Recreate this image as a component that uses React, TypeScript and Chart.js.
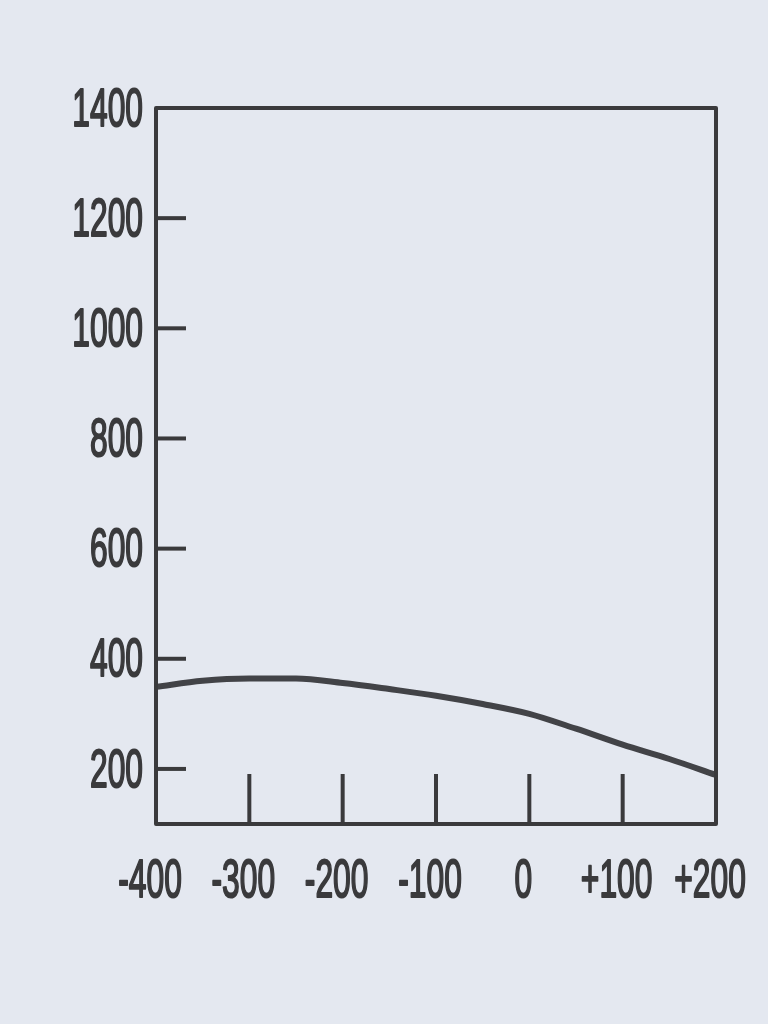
import React, { useEffect, useRef } from "react";
import { Chart, registerables } from "chart.js";

Chart.register(...registerables);

const X_VALUES = [-400, -350, -300, -250, -200, -150, -100, -50, 0, 50, 100, 150, 200];
const Y_VALUES = [349, 360, 364, 364, 356, 345, 333, 318, 300, 273, 244, 218, 189];
const X_TICKS = [-400, -300, -200, -100, 0, 100, 200];
const X_TICK_LABELS = ["-400", "-300", "-200", "-100", "0", "+100", "+200"];
const Y_TICKS = [200, 400, 600, 800, 1000, 1200, 1400];
const Y_TICK_LABELS = ["200", "400", "600", "800", "1000", "1200", "1400"];

const INK = "#3a3a3c";

const framePlugin = {
  id: "framePlugin",
  afterDraw(chart: any) {
    const { ctx, chartArea } = chart;
    const xs = chart.scales.x;
    const ys = chart.scales.y;
    ctx.save();
    ctx.strokeStyle = INK;
    ctx.lineWidth = 4;
    ctx.lineJoin = "round";
    ctx.strokeRect(chartArea.left, chartArea.top, chartArea.right - chartArea.left, chartArea.bottom - chartArea.top);
    // inner y ticks
    Y_TICKS.forEach((v) => {
      if (v >= ys.max) return;
      const y = ys.getPixelForValue(v);
      ctx.beginPath();
      ctx.moveTo(chartArea.left, y);
      ctx.lineTo(chartArea.left + 30, y);
      ctx.stroke();
    });
    // inner x ticks
    X_TICKS.forEach((v) => {
      if (v <= xs.min || v >= xs.max) return;
      const x = xs.getPixelForValue(v);
      ctx.beginPath();
      ctx.moveTo(x, chartArea.bottom);
      ctx.lineTo(x, chartArea.bottom - 50);
      ctx.stroke();
    });
    // labels
    ctx.fillStyle = INK;
    ctx.strokeStyle = INK;
    ctx.lineWidth = 2;
    ctx.lineJoin = "round";
    ctx.font = '53px "Liberation Sans", Arial, sans-serif';
    ctx.textBaseline = "middle";
    const sx = 0.6;
    Y_TICKS.forEach((v, i) => {
      const y = ys.getPixelForValue(v);
      ctx.save();
      ctx.translate(chartArea.left - 13, y + 3);
      ctx.scale(sx, 1);
      ctx.textAlign = "right";
      ctx.fillText(Y_TICK_LABELS[i], 0, 0);
      ctx.strokeText(Y_TICK_LABELS[i], 0, 0);
      ctx.restore();
    });
    X_TICKS.forEach((v, i) => {
      const x = xs.getPixelForValue(v);
      ctx.save();
      ctx.translate(x - 6, chartArea.bottom + 58);
      ctx.scale(sx, 1);
      ctx.textAlign = "center";
      ctx.fillText(X_TICK_LABELS[i], 0, 0);
      ctx.strokeText(X_TICK_LABELS[i], 0, 0);
      ctx.restore();
    });
    ctx.restore();
  },
};

export default function App() {
  const ref = useRef<HTMLCanvasElement | null>(null);
  useEffect(() => {
    document.body.style.margin = "0";
    document.body.style.background = "#e4e8f0";
    const canvas = ref.current;
    if (!canvas) return;
    const chart = new Chart(canvas, {
      type: "line",
      data: {
        datasets: [
          {
            data: X_VALUES.map((x, i) => ({ x, y: Y_VALUES[i] })),
            borderColor: "rgba(52,52,56,0.92)",
            borderWidth: 6,
            pointRadius: 0,
            tension: 0.4,
            cubicInterpolationMode: "monotone",
            fill: false,
          },
        ],
      },
      options: {
        animation: false,
        responsive: false,
        events: [],
        layout: { padding: { left: 0, top: 108, right: 52, bottom: 0 } },
        plugins: { legend: { display: false }, tooltip: { enabled: false }, title: { display: false } },
        scales: {
          x: {
            type: "linear",
            min: -400,
            max: 200,
            grid: { display: false },
            border: { display: false },
            ticks: { display: false },
            afterBuildTicks: (s: any) => {
              s.ticks = X_TICKS.map((v) => ({ value: v }));
            },
            afterFit: (s: any) => {
              s.height = 200;
            },
          },
          y: {
            type: "linear",
            min: 100,
            max: 1400,
            grid: { display: false },
            border: { display: false },
            ticks: { display: false },
            afterBuildTicks: (s: any) => {
              s.ticks = Y_TICKS.map((v) => ({ value: v }));
            },
            afterFit: (s: any) => {
              s.width = 156;
            },
          },
        },
      } as any,
      plugins: [framePlugin],
    });
    return () => chart.destroy();
  }, []);
  return (
    <div style={{ position: "fixed", left: 0, top: 0, width: 768, height: 1024, background: "#e4e8f0" }}>
      <canvas ref={ref} width={768} height={1024} style={{ display: "block", width: 768, height: 1024 }} />
    </div>
  );
}
